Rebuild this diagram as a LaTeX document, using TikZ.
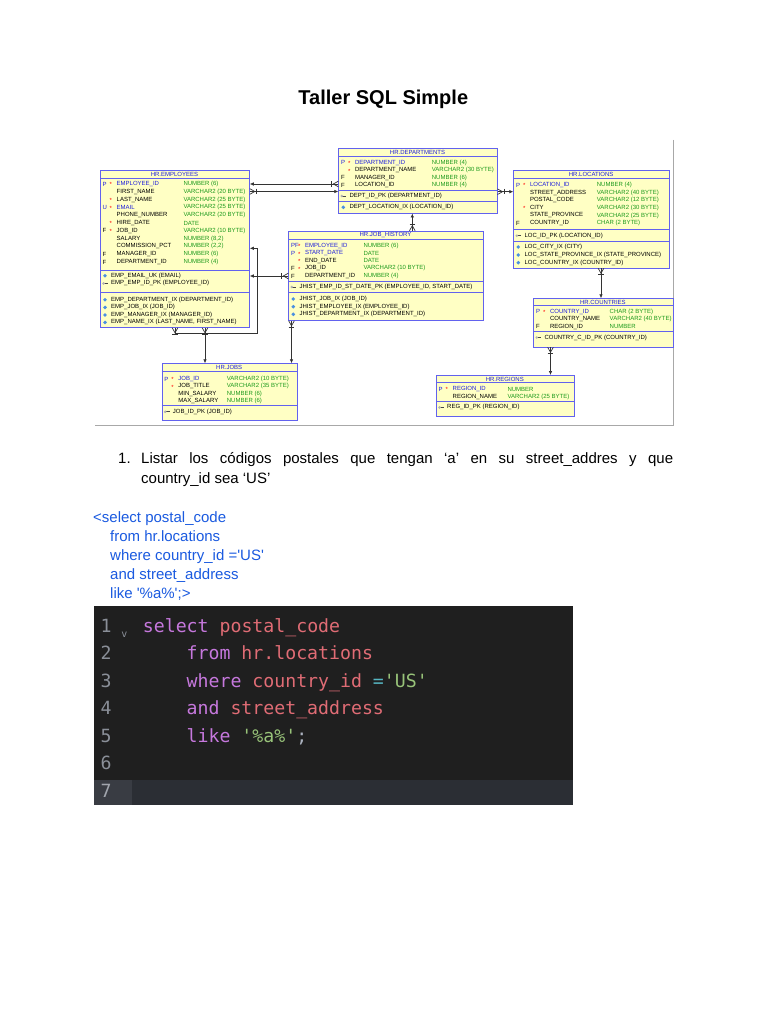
\documentclass[tikz,border=0pt]{standalone}
\usepackage{fontspec}
\setmainfont{Liberation Sans}
\newfontfamily\codefont{DejaVu Sans Mono}
\usetikzlibrary{arrows.meta}
\definecolor{erfill}{HTML}{FFFFC4}
\definecolor{erborder}{HTML}{6262EE}
\definecolor{erblue}{HTML}{1E1EDC}
\definecolor{ergreen}{HTML}{1C9A1C}
\definecolor{icoblue}{HTML}{4A90E0}
\definecolor{fkcol}{HTML}{333333}
\definecolor{framegray}{HTML}{A8A8A8}
\definecolor{docblue}{HTML}{1A5AE0}
\definecolor{codebg}{HTML}{1F1F1F}
\definecolor{codeline}{HTML}{2B2E34}
\definecolor{codegut}{HTML}{393C43}
\definecolor{lnum}{HTML}{8A8F98}
\definecolor{ckw}{HTML}{C678DD}
\definecolor{cid}{HTML}{E06C75}
\definecolor{cstr}{HTML}{98C379}
\definecolor{cop}{HTML}{56B6C2}
\definecolor{cpl}{HTML}{ABB2BF}
\tikzset{
  ertab/.style={draw=erborder, fill=erfill, line width=0.8pt, rectangle, inner sep=0pt, anchor=north west},
  erline/.style={draw=erborder, line width=0.8pt},
  ert/.style={font=\fontsize{6}{7}\selectfont, inner sep=0pt, anchor=west},
  fk/.style={draw=fkcol, line width=0.7pt},
  fkarrow/.style={fk, -{Latex[length=4pt,width=3.6pt]}},
  crowR/.pic={\draw[fk] (0,-2.8) -- (5,0) -- (0,2.8); \draw[fk] (6.5,-2.8) -- (6.5,2.8);},
  crowL/.pic={\draw[fk] (0,-2.8) -- (-5,0) -- (0,2.8); \draw[fk] (-6.5,-2.8) -- (-6.5,2.8);},
  crowD/.pic={\draw[fk] (-2.8,0) -- (0,5) -- (2.8,0); \draw[fk] (-2.8,6.5) -- (2.8,6.5);},
  crowU/.pic={\draw[fk] (-2.8,0) -- (0,-5) -- (2.8,0); \draw[fk] (-2.8,-6.5) -- (2.8,-6.5);},
  doctext/.style={font=\fontsize{15}{18}\selectfont, inner sep=0pt, anchor=base west},
  codetext/.style={font=\codefont\fontsize{18.2}{22}\selectfont, inner sep=0pt, anchor=base west},
  lnumtext/.style={font=\codefont\fontsize{18.2}{22}\selectfont, inner sep=0pt, anchor=base, text=lnum},
}
% name, x1, y1, x2, y2, title, header bottom
\newcommand\ertable[7]{%
  \node[ertab, minimum width={#4pt-#2pt}, minimum height={#5pt-#3pt}] (#1) at (#2,#3) {};
  \draw[erline] (#2,#7) -- (#4,#7);
  \node[ert, anchor=center, text=erblue] (#1-title) at ({(#2+#4)/2},{(#3+#7)/2+0.3}) {#6};}
\newcommand\ersep[3]{\draw[erline] (#1,#3) -- (#2,#3);}
% x-left, type x, y, flag, star, name, type, colour
\newcommand\erow[8]{%
  \node[ert,text=#8] at (#1+2.5,#3) {#4};
  \node[ert,text=red] at (#1+9.5,#3+0.8) {#5};
  \node[ert,text=#8] at (#1+16.5,#3) {#6};
  \node[ert,text=ergreen] at (#2,#3) {#7};}
% x-left, y, k/i, text
\newcommand\erkey[4]{%
  \ifx k#3
    \draw[gray!55!black, line width=0.9pt] (#1+3.5,#2) -- (#1+8,#2);
    \fill[gray!60] (#1+3.5,#2) circle (1.4);
  \else
    \fill[icoblue] (#1+5,#2-1.9) -- (#1+6.9,#2) -- (#1+5,#2+1.9) -- (#1+3.1,#2) -- cycle;
  \fi
  \node[ert] at (#1+11,#2) {#4};}
\begin{document}
\begin{tikzpicture}[x=1pt,y=-1pt]
\useasboundingbox (0,0) rectangle (768,1024);
\fill[white] (0,0) rectangle (768,1024);

% title
\node[font=\bfseries\fontsize{20}{24}\selectfont, inner sep=0pt, anchor=base] (title) at (383.3,105) {Taller SQL Simple};

% diagram frame
\draw[framegray, line width=1pt] (673.5,140) -- (673.5,425) -- (95,425);

% ---------- HR.EMPLOYEES
\ertable{emp}{100}{170}{249}{327}{HR.EMPLOYEES}{178}
\erow{100}{183.3}{184}{P}{*}{EMPLOYEE\_ID}{NUMBER (6)}{erblue}
\erow{100}{183.3}{191.8}{}{}{FIRST\_NAME}{VARCHAR2 (20 BYTE)}{black}
\erow{100}{183.3}{199.6}{}{*}{LAST\_NAME}{VARCHAR2 (25 BYTE)}{black}
\erow{100}{183.3}{207.4}{U}{*}{EMAIL}{VARCHAR2 (25 BYTE)}{erblue}
\erow{100}{183.3}{215.2}{}{}{PHONE\_NUMBER}{VARCHAR2 (20 BYTE)}{black}
\erow{100}{183.3}{223}{}{*}{HIRE\_DATE}{DATE}{black}
\erow{100}{183.3}{230.8}{F}{*}{JOB\_ID}{VARCHAR2 (10 BYTE)}{black}
\erow{100}{183.3}{238.6}{}{}{SALARY}{NUMBER (8,2)}{black}
\erow{100}{183.3}{246.4}{}{}{COMMISSION\_PCT}{NUMBER (2,2)}{black}
\erow{100}{183.3}{254.2}{F}{}{MANAGER\_ID}{NUMBER (6)}{black}
\erow{100}{183.3}{262}{F}{}{DEPARTMENT\_ID}{NUMBER (4)}{black}
\ersep{100}{249}{270.5}
\erkey{100}{275.8}{i}{EMP\_EMAIL\_UK (EMAIL)}
\erkey{100}{283.4}{k}{EMP\_EMP\_ID\_PK (EMPLOYEE\_ID)}
\ersep{100}{249}{292.5}
\erkey{100}{299.8}{i}{EMP\_DEPARTMENT\_IX (DEPARTMENT\_ID)}
\erkey{100}{307.4}{i}{EMP\_JOB\_IX (JOB\_ID)}
\erkey{100}{315}{i}{EMP\_MANAGER\_IX (MANAGER\_ID)}
\erkey{100}{322.4}{i}{EMP\_NAME\_IX (LAST\_NAME, FIRST\_NAME)}

% ---------- HR.DEPARTMENTS
\ertable{dept}{338.3}{148.3}{496.7}{212.7}{HR.DEPARTMENTS}{156}
\erow{338.3}{431.7}{162.7}{P}{*}{DEPARTMENT\_ID}{NUMBER (4)}{erblue}
\erow{338.3}{431.7}{170.2}{}{*}{DEPARTMENT\_NAME}{VARCHAR2 (30 BYTE)}{black}
\erow{338.3}{431.7}{177.7}{F}{}{MANAGER\_ID}{NUMBER (6)}{black}
\erow{338.3}{431.7}{185.1}{F}{}{LOCATION\_ID}{NUMBER (4)}{black}
\ersep{338.3}{496.7}{190.2}
\erkey{338.3}{196}{k}{DEPT\_ID\_PK (DEPARTMENT\_ID)}
\ersep{338.3}{496.7}{201.7}
\erkey{338.3}{207.3}{i}{DEPT\_LOCATION\_IX (LOCATION\_ID)}

% ---------- HR.LOCATIONS
\ertable{loc}{513.3}{170.5}{669}{267.5}{HR.LOCATIONS}{178.3}
\erow{513.3}{596.7}{185}{P}{*}{LOCATION\_ID}{NUMBER (4)}{erblue}
\erow{513.3}{596.7}{192.6}{}{}{STREET\_ADDRESS}{VARCHAR2 (40 BYTE)}{black}
\erow{513.3}{596.7}{200.2}{}{}{POSTAL\_CODE}{VARCHAR2 (12 BYTE)}{black}
\erow{513.3}{596.7}{207.8}{}{*}{CITY}{VARCHAR2 (30 BYTE)}{black}
\erow{513.3}{596.7}{215.5}{}{}{STATE\_PROVINCE}{VARCHAR2 (25 BYTE)}{black}
\erow{513.3}{596.7}{223.2}{F}{}{COUNTRY\_ID}{CHAR (2 BYTE)}{black}
\ersep{513.3}{669}{229.8}
\erkey{513.3}{235.7}{k}{LOC\_ID\_PK (LOCATION\_ID)}
\ersep{513.3}{669}{241.2}
\erkey{513.3}{247}{i}{LOC\_CITY\_IX (CITY)}
\erkey{513.3}{255}{i}{LOC\_STATE\_PROVINCE\_IX (STATE\_PROVINCE)}
\erkey{513.3}{262.7}{i}{LOC\_COUNTRY\_IX (COUNTRY\_ID)}

% ---------- HR.JOB_HISTORY
\ertable{jh}{288.3}{230.7}{482.7}{320}{HR.JOB\_HISTORY}{239}
\erow{288.3}{363.3}{245.7}{PF}{*}{EMPLOYEE\_ID}{NUMBER (6)}{erblue}
\erow{288.3}{363.3}{253.2}{P}{*}{START\_DATE}{DATE}{erblue}
\erow{288.3}{363.3}{260.8}{}{*}{END\_DATE}{DATE}{black}
\erow{288.3}{363.3}{268.4}{F}{*}{JOB\_ID}{VARCHAR2 (10 BYTE)}{black}
\erow{288.3}{363.3}{276}{F}{}{DEPARTMENT\_ID}{NUMBER (4)}{black}
\ersep{288.3}{482.7}{281.6}
\erkey{288.3}{287}{k}{JHIST\_EMP\_ID\_ST\_DATE\_PK (EMPLOYEE\_ID, START\_DATE)}
\ersep{288.3}{482.7}{292.3}
\erkey{288.3}{299}{i}{JHIST\_JOB\_IX (JOB\_ID)}
\erkey{288.3}{306.7}{i}{JHIST\_EMPLOYEE\_IX (EMPLOYEE\_ID)}
\erkey{288.3}{314.3}{i}{JHIST\_DEPARTMENT\_IX (DEPARTMENT\_ID)}

% ---------- HR.COUNTRIES
\ertable{cty}{533.3}{298.3}{672.5}{346.5}{HR.COUNTRIES}{305}
\erow{533.3}{609.5}{311.7}{P}{*}{COUNTRY\_ID}{CHAR (2 BYTE)}{erblue}
\erow{533.3}{609.5}{319.3}{}{}{COUNTRY\_NAME}{VARCHAR2 (40 BYTE)}{black}
\erow{533.3}{609.5}{326.8}{F}{}{REGION\_ID}{NUMBER}{black}
\ersep{533.3}{672.5}{331.7}
\erkey{533.3}{337.5}{k}{COUNTRY\_C\_ID\_PK (COUNTRY\_ID)}

% ---------- HR.JOBS
\ertable{jobs}{161.7}{363.3}{296.7}{420}{HR.JOBS}{371.7}
\erow{161.7}{226.7}{379}{P}{*}{JOB\_ID}{VARCHAR2 (10 BYTE)}{erblue}
\erow{161.7}{226.7}{386.4}{}{*}{JOB\_TITLE}{VARCHAR2 (35 BYTE)}{black}
\erow{161.7}{226.7}{393.8}{}{}{MIN\_SALARY}{NUMBER (6)}{black}
\erow{161.7}{226.7}{401.2}{}{}{MAX\_SALARY}{NUMBER (6)}{black}
\ersep{161.7}{296.7}{405.8}
\erkey{161.7}{411.8}{k}{JOB\_ID\_PK (JOB\_ID)}

% ---------- HR.REGIONS
\ertable{reg}{436}{375}{573.5}{416}{HR.REGIONS}{382.3}
\erow{436}{507.3}{389}{P}{*}{REGION\_ID}{NUMBER}{erblue}
\erow{436}{507.3}{396.7}{}{}{REGION\_NAME}{VARCHAR2 (25 BYTE)}{black}
\ersep{436}{573.5}{401.7}
\erkey{436}{407.4}{k}{REG\_ID\_PK (REGION\_ID)}

% ---------- connectors
\draw[fkarrow] (dept.west |- 0,184) -- (emp.east |- 0,184);
\pic at (dept.west |- 0,184) {crowL};
\draw[fkarrow] (emp.east |- 0,191.5) -- (dept.west |- 0,191.5);
\pic at (emp.east |- 0,191.5) {crowR};
\draw[fkarrow] (dept.east |- 0,191.7) -- (loc.west |- 0,191.7);
\pic at (dept.east |- 0,191.7) {crowR};
\draw[fkarrow] (loc.south -| 601,0) -- (cty.north -| 601,0);
\pic at (loc.south -| 601,0) {crowD};
\draw[fkarrow] (cty.south -| 550.5,0) -- (reg.north -| 550.5,0);
\pic at (cty.south -| 550.5,0) {crowD};
\draw[fkarrow] (jh.north -| 412.3,0) -- (dept.south -| 412.3,0);
\pic at (jh.north -| 412.3,0) {crowU};
\draw[fkarrow] (jh.west |- 0,276) -- (emp.east |- 0,276);
\pic at (jh.west |- 0,276) {crowL};
\draw[fkarrow] (jh.south -| 291.5,0) -- (jobs.north -| 291.5,0);
\pic at (jh.south -| 291.5,0) {crowD};
\draw[fkarrow] (emp.south -| 205,0) -- (jobs.north -| 205,0);
\pic at (emp.south -| 205,0) {crowD};
\coordinate (mgrA) at (175,333.5);
\coordinate (mgrB) at (257.5,333.5);
\coordinate (mgrC) at (257.5,248.3);
\draw[fkarrow] (emp.south -| 175,0) -- (mgrA) -- (mgrB) -- (mgrC) -- (emp.east |- mgrC);
\pic at (emp.south -| 175,0) {crowD};

% ---------- question text
\node[doctext] (num1) at (118,463) {1.};
\node[doctext] (q1a) at (141,463) {\makebox[532pt][s]{Listar los códigos postales que tengan ‘a’ en su street\_addres y que}};
\node[doctext] (q1b) at (141,483) {country\_id sea ‘US’};

% ---------- blue query text
\node[doctext, text=docblue] (b1) at (93,522) {<select postal\_code};
\node[doctext, text=docblue] (b2) at (110,541) {from hr.locations};
\node[doctext, text=docblue] (b3) at (110,560) {where country\_id =\textquotesingle US\textquotesingle};
\node[doctext, text=docblue] (b4) at (110,579) {and street\_address};
\node[doctext, text=docblue] (b5) at (110,598) {like \textquotesingle\%a\%\textquotesingle;>};

% ---------- code editor screenshot
\fill[codebg] (94,606) rectangle (573.3,805);
\fill[codeline] (131.7,780) rectangle (573.3,805);
\fill[codegut] (94,780) rectangle (131.7,805);
\node[lnumtext] (n1) at (106,632) {1};
\node[lnumtext] (n2) at (106,659.5) {2};
\node[lnumtext] (n3) at (106,687) {3};
\node[lnumtext] (n4) at (106,714.5) {4};
\node[lnumtext] (n5) at (106,742) {5};
\node[lnumtext] (n6) at (106,769.5) {6};
\node[lnumtext, text=lnum!80!white] (n7) at (106,797) {7};
\node[font=\codefont\fontsize{10}{12}\selectfont, inner sep=0pt, anchor=base, text=lnum] (fold) at (124.5,637) {v};
\node[codetext] (c1) at (142.7,632) {\textcolor{ckw}{select} \textcolor{cid}{postal\_code}};
\node[codetext] (c2) at (186.5,659.5) {\textcolor{ckw}{from} \textcolor{cid}{hr.locations}};
\node[codetext] (c3) at (186.5,687) {\textcolor{ckw}{where} \textcolor{cid}{country\_id} \textcolor{cop}{=}\textcolor{cstr}{\textquotesingle US\textquotesingle}};
\node[codetext] (c4) at (186.5,714.5) {\textcolor{ckw}{and} \textcolor{cid}{street\_address}};
\node[codetext] (c5) at (186.5,742) {\textcolor{ckw}{like} \textcolor{cstr}{\textquotesingle\%a\%\textquotesingle}\textcolor{cpl}{;}};
\end{tikzpicture}
\end{document}
